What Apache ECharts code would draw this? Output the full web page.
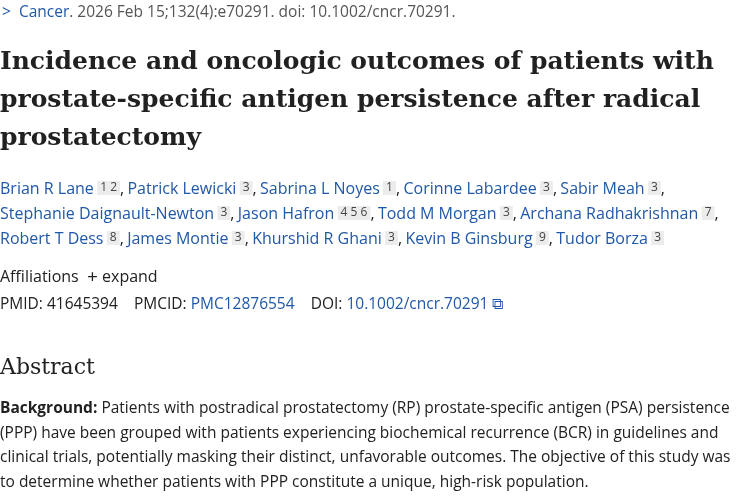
<!DOCTYPE html>
<html><head><meta charset="utf-8">
<script src="https://cdn.jsdelivr.net/npm/echarts@6/dist/echarts.min.js"></script>
<style>html,body{margin:0;padding:0;background:#fff}#c{width:750px;height:500px}</style>
</head><body><div id="c"></div>
<script>
const journalLine = ['Cancer', '. 2026 Feb 15;132(4):e70291. doi: 10.1002/cncr.70291.'];
const titleLines = ['Incidence and oncologic outcomes of patients with','prostate-specific antigen persistence after radical','prostatectomy'];
const authorLines = [
  [['Brian R Lane','1 2'],['Patrick Lewicki','3'],['Sabrina L Noyes','1'],['Corinne Labardee','3'],['Sabir Meah','3']],
  [['Stephanie Daignault-Newton','3'],['Jason Hafron','4 5 6'],['Todd M Morgan','3'],['Archana Radhakrishnan','7']],
  [['Robert T Dess','8'],['James Montie','3'],['Khurshid R Ghani','3'],['Kevin B Ginsburg','9'],['Tudor Borza','3']]
];
const ids = ['41645394','PMC12876554','10.1002/cncr.70291'];
const abstractLines = [
  ['Background:',' Patients with postradical prostatectomy (RP) prostate-specific antigen (PSA) persistence'],
  ['','(PPP) have been grouped with patients experiencing biochemical recurrence (BCR) in guidelines and'],
  ['','clinical trials, potentially masking their distinct, unfavorable outcomes. The objective of this study was'],
  ['','to determine whether patients with PPP constitute a unique, high-risk population.']
];
const blue='#2058a8', dark='#212121', sans='"Open Sans", sans-serif', serif='"DejaVu Serif", serif';
const g=[];
g.push({type:'text',left:2,top:5,style:{rich:{a:{fill:blue,font:'15.5px '+sans},b:{fill:'#555',font:'15.5px '+sans}},text:'{a|>  '+journalLine[0]+'}{b|'+journalLine[1]+'}'}});
titleLines.forEach((t,i)=>g.push({type:'text',left:0,top:50+i*38,style:{text:t,fill:dark,font:'bold 25px '+serif}}));
authorLines.forEach((line,i)=>{
  let s=line.map((a,j)=>'{n|'+a[0]+'} {s|'+a[1]+'}'+(j<line.length-1||i<2?'{c|,}':'')).join(' ');
  g.push({type:'text',left:0,top:181+i*25,style:{text:s,rich:{
    n:{fill:blue,font:'16px '+sans},
    s:{fill:'#444',font:'12px '+sans,backgroundColor:'#ececec',padding:[1,3,1,3],verticalAlign:'top',lineHeight:17},
    c:{fill:dark,font:'16px '+sans}}}});
});
g.push({type:'text',left:0,top:268,style:{text:'Affiliations  {p|+} expand',fill:dark,font:'16px '+sans,rich:{p:{fill:dark,font:'19px '+sans}}}});
g.push({type:'text',left:0,top:297,style:{text:'PMID: '+ids[0]+'    PMCID: {a|'+ids[1]+'}    DOI: {a|'+ids[2]+' ⧉}',fill:dark,font:'15.5px '+sans,rich:{a:{fill:blue,font:'15.5px '+sans}}}});
g.push({type:'text',left:0,top:357,style:{text:'Abstract',fill:dark,font:'22px '+serif}});
abstractLines.forEach((l,i)=>g.push({type:'text',left:0,top:401+i*24.5,style:{text:'{b|'+l[0]+'}'+l[1],fill:dark,font:'15.5px '+sans,rich:{b:{fill:dark,font:'bold 15.5px '+sans}}}}));
const chart=echarts.init(document.getElementById('c'));
chart.setOption({graphic:g});
</script></body></html>
